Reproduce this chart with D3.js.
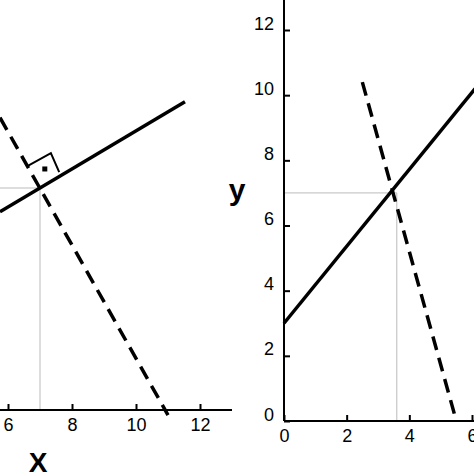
<!DOCTYPE html><html><head><script src="https://d3js.org/d3.v7.min.js"></script>
<style>body{margin:0;background:#fff}text{font-family:"Liberation Sans",Arial,sans-serif}</style></head><body>
<script>
const leftXTicks=[6,8,10,12];
const leftSolid=[[5.75,6.25],[11.53,9.72]];
const leftDashed=[[5.75,9.22],[11.0,-0.16]];
const leftPoint=[7,7];
const leftSquare=[[6.62,7.7],[7.34,8.1],[7.6,7.5]];
const leftDot=[7.15,7.6];
const rightTicks=[0,2,4,6,8,10,12];
const rightXTicks=[0,2,4,6];
const rightSolid=[[0,3],[6.1,10.2]];
const rightDashed=[[2.5,10.4],[5.5,0]];
const rightPoint=[3.6,7];

const svg=d3.select("body").append("svg").attr("width",474).attr("height",474);
const lx=d3.scaleLinear().domain([6,12]).range([8,200]);
const ly=d3.scaleLinear().domain([0,7]).range([410,188]);
const rx=d3.scaleLinear().domain([0,6]).range([284,472]);
const ry=d3.scaleLinear().domain([0,12]).range([421,30]);
const line=(x,y)=>d3.line().x(d=>x(d[0])).y(d=>y(d[1]));
const fmt=d3.format("d");
function panel(x,y,solid,dashed,pt,x0,y0){
  svg.append("path").attr("d",line(x,y)([[x.invert(x0),pt[1]],pt,[pt[0],y.invert(y0)]])).attr("fill","none").attr("stroke","#bbb").attr("stroke-width",1);
  svg.append("path").attr("d",line(x,y)(solid)).attr("stroke","#000").attr("stroke-width",3.5).attr("fill","none");
  svg.append("path").attr("d",line(x,y)(dashed)).attr("stroke","#000").attr("stroke-width",3.5).attr("stroke-dasharray","14,8").attr("fill","none");
}
panel(lx,ly,leftSolid,leftDashed,leftPoint,0,410);
panel(rx,ry,rightSolid,rightDashed,rightPoint,284,421);
svg.append("path").attr("d",line(lx,ly)(leftSquare)).attr("fill","none").attr("stroke","#000").attr("stroke-width",2);
svg.append("rect").attr("x",lx(leftDot[0])-2.5).attr("y",ly(leftDot[1])-2.5).attr("width",5).attr("height",5);
const la=svg.append("g").attr("transform","translate(0,410)").call(d3.axisBottom(lx).tickValues(leftXTicks).tickFormat(fmt).tickSize(-6).tickPadding(8));
la.select(".domain").attr("d","M0,0H232").attr("stroke-width",2);
const rax=svg.append("g").attr("transform","translate(0,421)").call(d3.axisBottom(rx).tickValues(rightXTicks).tickFormat(fmt).tickSize(-6).tickPadding(8));
rax.select(".domain").attr("d","M284,0H474").attr("stroke-width",2);
const ray=svg.append("g").attr("transform","translate(284,0)").call(d3.axisLeft(ry).tickValues(rightTicks).tickFormat(fmt).tickSize(-6).tickPadding(10));
ray.select(".domain").attr("d","M0,0V421").attr("stroke-width",2);
svg.selectAll("g").attr("font-size",null).attr("font-family",null);
svg.selectAll(".tick line").attr("stroke-width",2);
svg.selectAll(".tick text").style("font-size","18px").attr("fill","#000");
ray.selectAll(".tick text").attr("dy","-0.05em");
svg.append("text").attr("x",38).attr("y",472).attr("text-anchor","middle").style("font-size","28px").attr("font-weight","bold").text("X");
svg.append("text").attr("x",237).attr("y",200).attr("text-anchor","middle").style("font-size","30px").attr("font-weight","bold").text("y");
</script></body></html>
